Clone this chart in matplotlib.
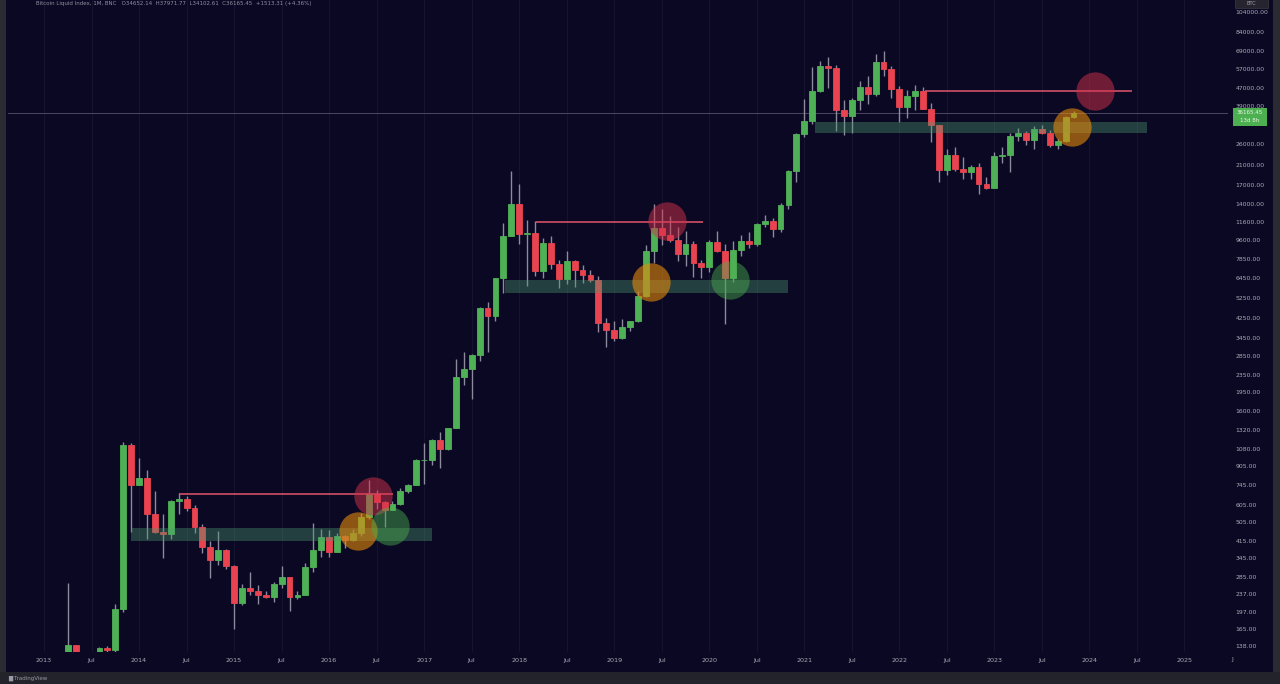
import matplotlib
matplotlib.use('Agg')
import matplotlib.pyplot as plt
from matplotlib.patches import Rectangle
import numpy as np

# monthly candles of the Bitcoin Liquid Index, first bar = Apr 2013
first_month = 3  # months after Jan 2013
opens = [93, 139, 129, 97, 106, 135, 133, 204, 1130,
         740, 800, 550, 455, 447, 627, 640, 585, 478, 387, 338, 378,
         320, 217, 254, 244, 236, 230, 264, 284, 230, 236, 314, 377,
         430, 369, 437, 416, 448, 531, 673, 624, 573, 608, 700, 745,
         963, 965, 1190, 1080, 1350, 2300, 2480, 2870, 4700, 4340, 6460, 10000,
         13900, 10200, 10300, 6930, 9240, 7490, 6390, 7730, 7030, 6630, 6320, 4020,
         3740, 3460, 3850, 4100, 5320, 8560, 10820, 10080, 9600, 8290, 9150, 7550,
         7190, 9350, 8540, 6410, 8620, 9450, 9140, 11350, 11650, 10780, 13800, 19700,
         29000, 33100, 45200, 58800, 57700, 37300, 35040, 41500, 47100, 43800, 61300, 57000,
         46200, 38500, 43200, 45500, 37700, 31800, 19900, 23300, 20000, 19400, 20500, 17150,
         16550, 23100, 23150, 28450, 29250, 27200, 30450, 29200, 25950, 26950, 34500]
highs = [266, 140, 130, 111, 136, 138, 215, 1163, 1150,
         985, 870, 700, 548, 635, 680, 660, 600, 495, 415, 458, 380,
         321, 265, 300, 260, 246, 268, 317, 285, 244, 330, 500, 467,
         465, 448, 439, 468, 552, 780, 704, 627, 625, 720, 750, 975,
         1150, 1200, 1290, 1350, 2760, 2980, 2900, 4780, 5000, 6470, 11400, 19700,
         17200, 11800, 11700, 9760, 9990, 7760, 8500, 7750, 7400, 7000, 6570, 4260,
         4110, 4200, 4120, 5600, 9080, 13880, 13180, 12320, 10950, 10500, 9500, 7750,
         9600, 10500, 9190, 9460, 10070, 10380, 11440, 12470, 12050, 14100, 19900, 29300,
         41950, 58350, 61800, 64900, 59500, 41300, 42300, 50500, 52900, 67000, 69000, 59100,
         47900, 45800, 48200, 47400, 40000, 31900, 24700, 25200, 22800, 21000, 21500, 18400,
         23900, 25250, 29200, 31000, 29850, 31400, 31800, 30200, 27500, 35000, 37000]
lows = [50, 85, 65, 65, 101, 110, 101, 196, 455,
        740, 420, 450, 345, 420, 550, 565, 450, 365, 280, 323, 310,
        165, 212, 236, 215, 227, 218, 253, 200, 225, 235, 300, 348,
        350, 367, 386, 414, 436, 522, 580, 480, 570, 604, 680, 740,
        750, 910, 890, 1070, 1350, 2100, 1830, 2700, 2970, 4100, 5500, 10000,
        9200, 5900, 6600, 6430, 7050, 5780, 6070, 5880, 6100, 6200, 3650, 3150,
        3350, 3400, 3700, 4070, 5300, 7500, 9070, 9350, 7700, 7300, 6530, 6430,
        6860, 8460, 4000, 6150, 8100, 8840, 8990, 10990, 9850, 10380, 13200, 17600,
        28130, 32300, 45000, 47000, 30000, 28800, 29300, 37400, 39600, 43300, 53300, 42000,
        32900, 34300, 37200, 37700, 26700, 17600, 18800, 19600, 18200, 18100, 15500, 16300,
        16500, 21400, 19550, 26950, 25800, 24800, 28850, 25300, 24900, 26550, 34100]
closes = [139, 129, 97, 106, 135, 133, 204, 1130, 740,
          800, 550, 455, 447, 627, 640, 585, 478, 387, 338, 378, 320,
          217, 254, 244, 236, 230, 264, 284, 230, 236, 314, 377, 430,
          369, 437, 416, 448, 531, 673, 624, 573, 608, 700, 745, 963,
          965, 1190, 1080, 1350, 2300, 2480, 2870, 4700, 4340, 6460, 10000, 13900,
          10200, 10300, 6930, 9240, 7490, 6390, 7730, 7030, 6630, 6320, 4020, 3740,
          3460, 3850, 4100, 5320, 8560, 10820, 10080, 9600, 8290, 9150, 7550, 7190,
          9350, 8540, 6410, 8620, 9450, 9140, 11350, 11650, 10780, 13800, 19700, 29000,
          33100, 45200, 58800, 57700, 37300, 35040, 41500, 47100, 43800, 61300, 57000, 46200,
          38500, 43200, 45500, 37700, 31800, 19900, 23300, 20000, 19400, 20500, 17150, 16550,
          23100, 23150, 28450, 29250, 27200, 30450, 29200, 25950, 26950, 34500, 36165.45]
last_price = 36165.45

# axis labels
price_ticks = [104000, 84000, 69000, 57000, 47000, 39000, 26000, 21000, 17000, 14000,
               11600, 9600, 7850, 6450, 5250, 4250, 3450, 2850, 2350, 1950, 1600,
               1320, 1080, 905, 745, 605, 505, 415, 345, 285, 237, 197, 165, 138]
time_labels = ['2013', 'Jul', '2014', 'Jul', '2015', 'Jul', '2016', 'Jul', '2017', 'Jul',
               '2018', 'Jul', '2019', 'Jul', '2020', 'Jul', '2021', 'Jul', '2022', 'Jul',
               '2023', 'Jul', '2024', 'Jul', '2025']

# drawn annotations: (start month, end month, low price, high price)
zones = [(11, 49, 413, 475), (58.2, 94, 5490, 6305), (97.3, 139.3, 29170, 32950)]
# resistance lines: (start month, end month, price)
res_lines = [(17.0, 44.1, 675), (62.1, 83.2, 11520), (111.2, 137.4, 45540)]
# circles: month, price, kind
circle_x = [41.5, 39.6, 43.7, 78.6, 76.6, 86.6, 132.7, 129.8]
circle_y = [661, 458, 483, 11690, 6170, 6305, 45540, 31070]
circle_kind = ['red', 'orange', 'green', 'red', 'orange', 'green', 'red', 'orange']

bg = '#0a0822'
up_col = '#4fb156'
dn_col = '#e8434f'
wick_col = '#8c8a9c'
txt_col = '#a9abb8'

fig = plt.figure(figsize=(12.8, 6.84), dpi=100)
fig.patch.set_facecolor(bg)
ax = fig.add_axes([8 / 1280, 32 / 684, 1220 / 1280, 652 / 684])
ax.set_facecolor(bg)
ax.set_yscale('log')
ax.set_xlim(-4.55, 149.5)
ax.set_ylim(129.7, 117400)

x = np.arange(len(closes)) + first_month
o = np.array(opens, float)
h = np.array(highs, float)
l = np.array(lows, float)
c = np.array(closes, float)
cols = np.where(c >= o, up_col, dn_col)

# vertical grid at the time ticks
ticks_x = np.arange(0, 6 * len(time_labels), 6)
for tx in ticks_x:
    ax.axvline(tx, color='#15132d', lw=0.8, zorder=0)

ax.vlines(x, l, h, color=wick_col, lw=1, zorder=2)
ax.bar(x, np.abs(c - o), bottom=np.minimum(o, c), width=0.74, color=cols,
       edgecolor=cols, linewidth=0.6, zorder=3)

# current price line
ax.axhline(last_price, color='#4d4660', lw=0.7, zorder=1)

# support zones
for x0, x1, p0, p1 in zones:
    ax.add_patch(Rectangle((x0, p0), x1 - x0, p1 - p0, facecolor='#4f9a70',
                           alpha=0.38, edgecolor='none', zorder=4))

for x0, x1, p in res_lines:
    ax.hlines(p, x0, x1, color='#e2566a', lw=1.1, zorder=5)

circle_cols = {'red': ('#d4304c', 0.5), 'orange': ('#e58a0c', 0.6), 'green': ('#4caf50', 0.45)}
for cx, cy, k in zip(circle_x, circle_y, circle_kind):
    col, a = circle_cols[k]
    ax.scatter(cx, cy, s=760, color=col, alpha=a, linewidths=0, zorder=6)

# axes styling
for s in ax.spines.values():
    s.set_visible(False)
ax.yaxis.tick_right()
ax.set_yticks(price_ticks)
ax.set_yticklabels([f'{p:.2f}' for p in price_ticks])
ax.yaxis.set_minor_locator(matplotlib.ticker.NullLocator())
ax.set_xticks(ticks_x)
ax.set_xticklabels(time_labels)
ax.tick_params(axis='y', length=0, pad=5.5, labelsize=4.4, labelcolor=txt_col)
ax.tick_params(axis='x', length=0, pad=4, labelsize=4.6, labelcolor=txt_col)

# partially hidden time label at the right edge
fig.text(1232 / 1280, 1 - 660 / 684, 'J', fontsize=4.6, color=txt_col, ha='center', va='center')

# header line
fig.text(36 / 1280, 1 - 3.5 / 684,
         'Bitcoin Liquid Index, 1M, BNC   O34652.14  H37971.77  L34102.61  C36165.45  +1513.31 (+4.36%)',
         fontsize=4.0, color='#8f90a2', ha='left', va='center')

# BTC box
fig.patches.append(Rectangle((1235 / 1280, 1 - 8 / 684), 33 / 1280, 10 / 684,
                             transform=fig.transFigure, facecolor='#26252f', edgecolor='#3a3945',
                             lw=0.5))
fig.text(1251 / 1280, 1 - 3.5 / 684, 'BTC', fontsize=3.6, color='#a0a0b0', ha='center', va='center')

# last price label
fig.patches.append(Rectangle((1233 / 1280, 1 - 126 / 684), 34 / 1280, 18 / 684,
                             transform=fig.transFigure, facecolor='#4caf50', edgecolor='none'))
fig.text(1250 / 1280, 1 - 112.5 / 684, f'{last_price:.2f}', fontsize=4.0, color='#e8f5e8',
         ha='center', va='center')
fig.text(1250 / 1280, 1 - 121 / 684, '13d 8h', fontsize=4.0, color='#e8f5e8',
         ha='center', va='center')

# window borders and footer
fig.patches.append(Rectangle((0, 0), 6 / 1280, 1, transform=fig.transFigure,
                             facecolor='#2a2a33', edgecolor='none'))
fig.patches.append(Rectangle((1273 / 1280, 0), 7 / 1280, 1, transform=fig.transFigure,
                             facecolor='#2a2a33', edgecolor='none'))
fig.patches.append(Rectangle((0, 0), 1, 12 / 684, transform=fig.transFigure,
                             facecolor='#23232b', edgecolor='none'))
fig.text(8 / 1280, 1 - 678 / 684, '\u2587 TradingView', fontsize=4.0, color='#9a9aa8',
         ha='left', va='center')

fig.savefig('out.png', dpi=100, facecolor=bg)
